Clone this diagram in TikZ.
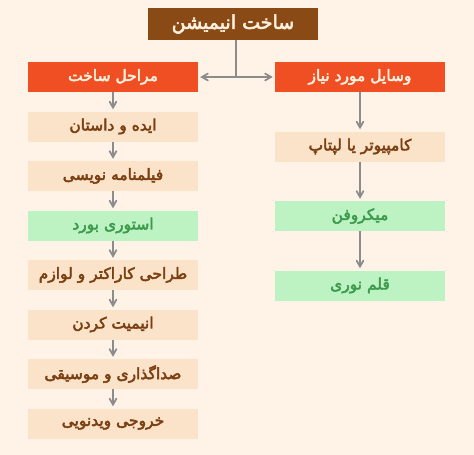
\documentclass[tikz,border=0pt]{standalone}
\usepackage{fontspec}
\usepackage{tikz}
\usetikzlibrary{arrows}
\newfontfamily\farsi[Script=Arabic,FakeBold=3]{DejaVu Sans}
\TeXXeTstate=1
\definecolor{bgcream}{HTML}{FEF3E6}
\definecolor{paletan}{HTML}{FAE3C9}
\definecolor{darkbrown}{HTML}{7B3F12}
\definecolor{titlebrown}{HTML}{8A4A16}
\definecolor{headred}{HTML}{F04E23}
\definecolor{mintgreen}{HTML}{BDF3C3}
\definecolor{leafgreen}{HTML}{3E9A4C}
\definecolor{arrowgray}{HTML}{8C8C8C}
\definecolor{creamtext}{HTML}{FFF1DD}
\newcommand{\fa}[1]{\farsi\beginR #1\endR}

\begin{document}
\begin{tikzpicture}[->,>=angle 60,x=1pt,y=1pt,node distance=49.5pt]
\tikzstyle{every node}=[minimum width=170pt,minimum height=30pt,inner sep=0pt,font=\fontsize{15.5}{17}\selectfont]
\tikzstyle{title}=[fill=titlebrown,text=creamtext,minimum height=32pt,font=\fontsize{19}{21}\selectfont]
\tikzstyle{head}=[fill=headred,text=creamtext]
\tikzstyle{item}=[fill=paletan,text=darkbrown]
\tikzstyle{keyitem}=[fill=mintgreen,text=leafgreen]
\tikzstyle{link}=[draw=arrowgray,line width=1.8pt]

\fill[bgcream] (0,0) rectangle (474,-455);
\useasboundingbox (0,0) rectangle (474,-455);

\node[title]   (T)  at (233,-24)      {\fa{ساخت انیمیشن}};
\node[head]    (L0) at (113,-77)      {\fa{مراحل ساخت}};
\node[item]    (L1) [below of=L0]     {\fa{ایده و داستان}};
\node[item]    (L2) [below of=L1]     {\fa{فیلمنامه نویسی}};
\node[keyitem] (L3) [below of=L2]     {\fa{استوری بورد}};
\node[item]    (L4) [below of=L3]     {\fa{طراحی کاراکتر و لوازم}};
\node[item]    (L5) [below of=L4]     {\fa{انیمیت کردن}};
\node[item]    (L6) [below of=L5]     {\fa{صداگذاری و موسیقی}};
\node[item]    (L7) [below of=L6]     {\fa{خروجی ویدنویی}};
\node[head]    (R0) at (360,-77)      {\fa{وسایل مورد نیاز}};
\node[item]    (R1) [below of=R0,node distance=69.5pt] {\fa{کامپیوتر یا لپتاپ}};
\node[keyitem] (R2) [below of=R1,node distance=69.5pt] {\fa{میکروفن}};
\node[keyitem] (R3) [below of=R2,node distance=69.5pt] {\fa{قلم نوری}};

\coordinate (S) at ([xshift=3pt]T.south);
\coordinate (J) at (S |- L0.east);
\draw[link,-] (S) -- (J);
\draw[link] (J) -- ([xshift=2pt]L0.east);
\draw[link] (J) -- ([xshift=-2pt]R0.west);

\path[link,shorten >=2pt]
(L0) edge (L1)
(L1) edge (L2)
(L2) edge (L3)
(L3) edge (L4)
(L4) edge (L5)
(L5) edge (L6)
(L6) edge (L7)
(R0) edge (R1)
(R1) edge (R2)
(R2) edge (R3);
\end{tikzpicture}
\end{document}
